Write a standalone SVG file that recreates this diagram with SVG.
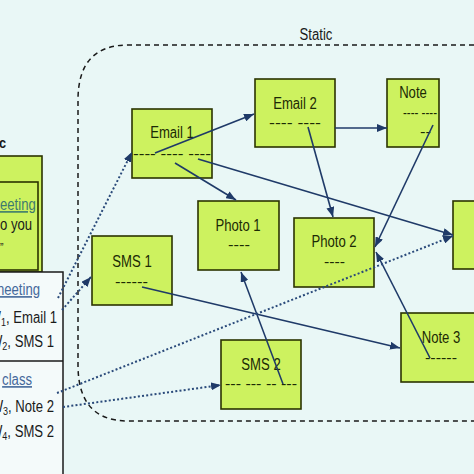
<svg xmlns="http://www.w3.org/2000/svg" width="474" height="474" viewBox="0 0 474 474">
<defs>
<style>
.bg{fill:#e9f7f6}
.node{fill:#cdf25f;stroke:#2b3300;stroke-width:1.6}
.t{font-family:"Liberation Sans",Arial,sans-serif;font-size:16px;fill:#1c2a05;text-anchor:middle}
.d{font-family:"Liberation Sans",Arial,sans-serif;font-size:15px;fill:#1c2a05}
.tl{font-family:"Liberation Sans",Arial,sans-serif;font-size:16px;fill:#1a1a1a}
.solid{fill:none;stroke:#1f3a68;stroke-width:1.6}
.dot{fill:none;stroke:#2a4a7a;stroke-width:2;stroke-dasharray:2 2.2}
.frame{fill:none;stroke:#1a1a1a;stroke-width:1.5;stroke-dasharray:5 4}
</style>
<marker id="ah" markerUnits="userSpaceOnUse" markerWidth="10" markerHeight="8" refX="10" refY="4" orient="auto">
<path d="M0,0 L10,4 L0,8 z" fill="#1f3a68"/>
</marker>
</defs>
<rect class="bg" x="0" y="0" width="474" height="474"/>

<g id="static-frame">
<path class="frame" d="M474,45 H128 Q78,45 78,100 V365 Q78,421 128,421 H474"/>
<text class="tl" text-anchor="middle" transform="translate(316,40) scale(0.82,1)">Static</text>
</g>

<g id="dynamic">
<text transform="translate(-1,148) scale(0.85,1)" style="font-family:'Liberation Sans',sans-serif;font-size:15px;font-weight:bold;fill:#1a1a1a">c</text>
<rect class="node" x="-5" y="156" width="47" height="116"/>
<rect class="node" x="-5" y="182" width="43" height="88"/>
<text class="tl" transform="translate(0,210) scale(0.82,1)" style="fill:#3d7a6e;text-decoration:underline">eeting</text>
<text class="tl" transform="translate(0,230) scale(0.82,1)">o you</text>
<text class="tl" transform="translate(0,252) scale(0.82,1)" style="font-size:13px">”</text>
</g>

<g id="table">
<rect x="-5" y="272" width="68" height="210" fill="#f4fafa" stroke="#1a1a1a" stroke-width="1.5"/>
<line x1="-5" y1="361" x2="63" y2="361" stroke="#1a1a1a" stroke-width="1.5"/>
<text class="tl" text-anchor="end" transform="translate(40,295) scale(0.82,1)" style="fill:#44689a;text-decoration:underline">neeting</text>
<text class="tl" text-anchor="end" transform="translate(57,323) scale(0.82,1)">W<tspan font-size="11" dy="3">1</tspan><tspan dy="-3">, Email 1</tspan></text>
<text class="tl" text-anchor="end" transform="translate(54,347) scale(0.82,1)">W<tspan font-size="11" dy="3">2</tspan><tspan dy="-3">, SMS 1</tspan></text>
<text class="tl" text-anchor="end" transform="translate(32,385) scale(0.82,1)" style="fill:#44689a;text-decoration:underline">class</text>
<text class="tl" text-anchor="end" transform="translate(54,412) scale(0.82,1)">W<tspan font-size="11" dy="3">3</tspan><tspan dy="-3">, Note 2</tspan></text>
<text class="tl" text-anchor="end" transform="translate(54,437) scale(0.82,1)">W<tspan font-size="11" dy="3">4</tspan><tspan dy="-3">, SMS 2</tspan></text>
</g>

<g id="email1">
<rect class="node" x="132" y="109" width="80" height="69"/>
<text class="t" transform="translate(172,138) scale(0.82,1)">Email 1</text>
<text class="d" x="133" y="159" textLength="78" lengthAdjust="spacingAndGlyphs">---- ---- ----</text>
</g>
<g id="email2">
<rect class="node" x="255" y="79" width="80" height="68"/>
<text class="t" transform="translate(295,109) scale(0.82,1)">Email 2</text>
<text class="d" x="269" y="128" textLength="52" lengthAdjust="spacingAndGlyphs">----  ----</text>
</g>
<g id="note">
<rect class="node" x="387" y="79" width="52" height="68"/>
<text class="t" transform="translate(413,98) scale(0.82,1)">Note</text>
<text class="d" x="403" y="118" textLength="34" lengthAdjust="spacingAndGlyphs">---- ----</text>
<text class="d" x="420" y="137" textLength="11" lengthAdjust="spacingAndGlyphs">--</text>
</g>
<g id="photo1">
<rect class="node" x="198" y="201" width="81" height="69"/>
<text class="t" transform="translate(238,231) scale(0.82,1)">Photo 1</text>
<text class="d" x="228" y="250" textLength="22" lengthAdjust="spacingAndGlyphs">----</text>
</g>
<g id="photo2">
<rect class="node" x="294" y="218" width="80" height="69"/>
<text class="t" transform="translate(334,247) scale(0.82,1)">Photo 2</text>
<text class="d" x="324" y="267" textLength="21" lengthAdjust="spacingAndGlyphs">----</text>
</g>
<g id="sms1">
<rect class="node" x="92" y="236" width="80" height="69"/>
<text class="t" transform="translate(132,267) scale(0.82,1)">SMS 1</text>
<text class="d" x="115" y="287" textLength="33" lengthAdjust="spacingAndGlyphs">------</text>
</g>
<g id="sms2">
<rect class="node" x="221" y="340" width="80" height="69"/>
<text class="t" transform="translate(261,370) scale(0.82,1)">SMS 2</text>
<text class="d" x="225" y="389" textLength="72" lengthAdjust="spacingAndGlyphs">--- --- -- ---</text>
</g>
<g id="note3">
<rect class="node" x="401" y="313" width="80" height="69"/>
<text class="t" transform="translate(441,343) scale(0.82,1)">Note 3</text>
<text class="d" x="425" y="363" textLength="32" lengthAdjust="spacingAndGlyphs">------</text>
</g>
<g id="right-node">
<rect class="node" x="453" y="201" width="40" height="68"/>
</g>

<g id="connectors">
<line class="solid" x1="155" y1="153" x2="254" y2="114" marker-end="url(#ah)"/>
<line class="solid" x1="175" y1="163" x2="236" y2="200" marker-end="url(#ah)"/>
<line class="solid" x1="198" y1="159" x2="453" y2="235" marker-end="url(#ah)"/>
<line class="solid" x1="308" y1="127" x2="333" y2="217" marker-end="url(#ah)"/>
<line class="solid" x1="335" y1="128" x2="387" y2="128" marker-end="url(#ah)"/>
<line class="solid" x1="433" y1="125" x2="375" y2="247" marker-end="url(#ah)"/>
<line class="solid" x1="142" y1="287" x2="400" y2="348" marker-end="url(#ah)"/>
<line class="solid" x1="283" y1="384" x2="241" y2="272" marker-end="url(#ah)"/>
<line class="solid" x1="430" y1="358" x2="376" y2="252" marker-end="url(#ah)"/>
<line class="dot" x1="58" y1="298" x2="132" y2="152" marker-end="url(#ah)"/>
<line class="dot" x1="62" y1="310" x2="91" y2="277" marker-end="url(#ah)"/>
<line class="dot" x1="57" y1="393" x2="453" y2="236" marker-end="url(#ah)"/>
<line class="dot" x1="63" y1="407" x2="221" y2="385" marker-end="url(#ah)"/>
</g>
</svg>
